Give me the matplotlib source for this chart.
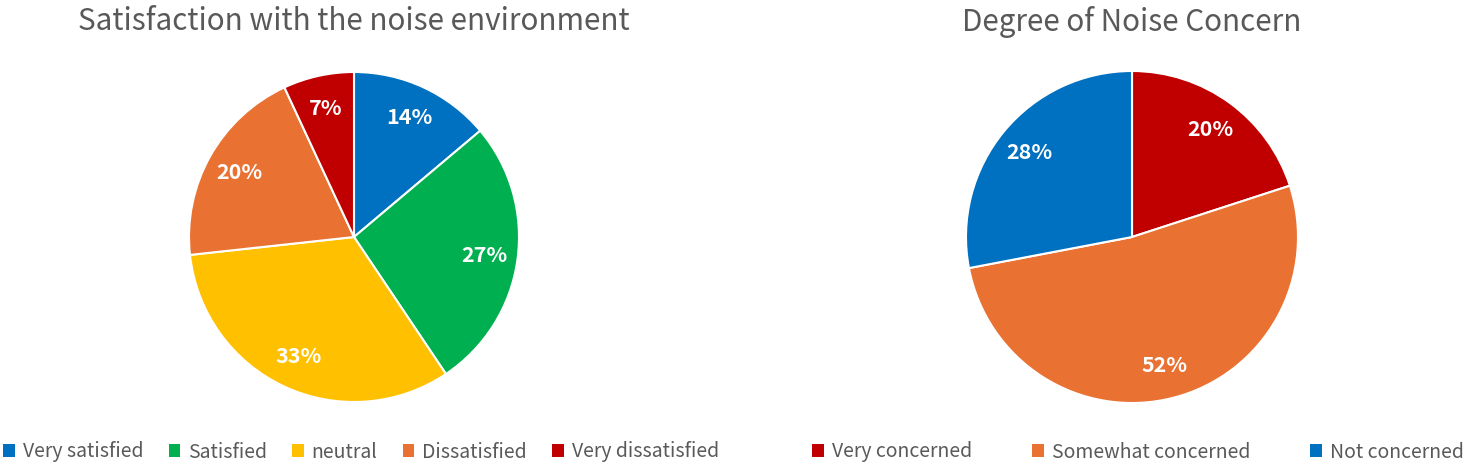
import matplotlib.pyplot as plt
import numpy as np
from matplotlib.patches import Patch

plt.rcParams['font.family'] = ['Noto Sans CJK KR', 'DejaVu Sans']

# Datos
sat_labels = ['Very satisfied', 'Satisfied', 'neutral', 'Dissatisfied', 'Very dissatisfied']
sat_values = [14, 27, 33, 20, 7]
sat_colors = ['#0070C0', '#00B050', '#FFC000', '#E97132', '#C00000']

con_labels = ['Very concerned', 'Somewhat concerned', 'Not concerned']
con_values = [20, 52, 28]
con_colors = ['#C00000', '#E97132', '#0070C0']

W, H = 1473, 474
fig = plt.figure(figsize=(W / 100, H / 100), dpi=100)
gris = '#595959'


def draw_pie(cx, cy, r, values, colors, title):
    ax = fig.add_axes([(cx - r) / W, 1 - (cy + r) / H, 2 * r / W, 2 * r / H])
    wedges, _ = ax.pie(values, colors=colors, startangle=90, counterclock=False,
                       radius=1, wedgeprops=dict(edgecolor='white', linewidth=1.5))
    for w, v in zip(wedges, values):
        ang = np.deg2rad((w.theta1 + w.theta2) / 2)
        ax.text(0.8 * np.cos(ang), 0.8 * np.sin(ang), f"{v}%", ha='center', va='center',
                color='white', fontsize=15.5, fontweight='bold')
    ax.set_xlim(-1, 1)
    ax.set_ylim(-1, 1)
    ax.set_aspect('equal')
    ax.axis('off')
    fig.text(cx / W, 1 - 22 / H, title, ha='center', va='center', fontsize=21.4, color=gris)


draw_pie(354, 237, 165, sat_values, sat_colors, 'Satisfaction with the noise environment')
draw_pie(1132, 237, 166, con_values, con_colors, 'Degree of Noise Concern')

h1 = [Patch(facecolor=c, edgecolor='none') for c in sat_colors]
fig.legend(h1, sat_labels, loc='center', bbox_to_anchor=(361 / W, 1 - 452 / H), ncol=5,
           frameon=False, fontsize=14, handlelength=0.6, handleheight=0.6,
           handletextpad=0.4, columnspacing=1.3, labelcolor=gris)

h2 = [Patch(facecolor=c, edgecolor='none') for c in con_colors]
fig.legend(h2, con_labels, loc='center', bbox_to_anchor=(1138 / W, 1 - 452 / H), ncol=3,
           frameon=False, fontsize=14, handlelength=0.6, handleheight=0.6,
           handletextpad=0.4, columnspacing=3.1, labelcolor=gris)

fig.savefig('out.png', dpi=100)
